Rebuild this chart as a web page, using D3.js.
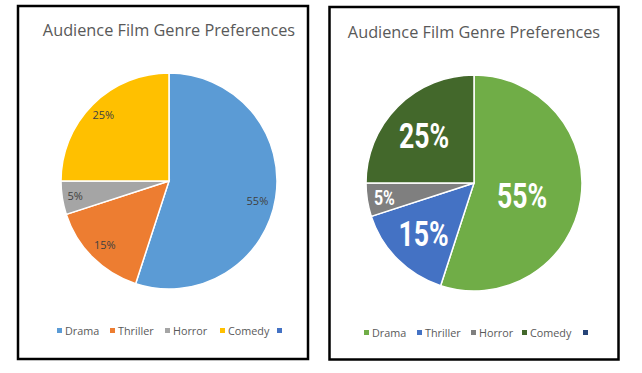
<!DOCTYPE html>
<html>
<head>
<meta charset="utf-8">
<script src="https://cdn.jsdelivr.net/npm/d3@7"></script>
<style>
  body { margin: 0; background: #fff; }
  svg { display: block; }
</style>
</head>
<body>
<svg id="chart" width="642" height="373"></svg>
<script>
// data
var genres = ["Drama", "Thriller", "Horror", "Comedy"]
var shares = [55, 15, 5, 25]
var legendNames = ["Drama", "Thriller", "Horror", "Comedy", ""]
var chartTitle = "Audience Film Genre Preferences"

var leftColors = ["#5b9bd5", "#ed7d31", "#a5a5a5", "#ffc000", "#4472c4"]
var rightColors = ["#70ad47", "#4472c4", "#7f7f7f", "#43682b", "#264478"]

var svg = d3.select('#chart')

function panel(opt){
	var g = svg.append('g')

	g.append('rect')
		.attr('x', opt.box[0]).attr('y', opt.box[1])
		.attr('width', opt.box[2]).attr('height', opt.box[3])
		.attr('fill', '#fff')
		.attr('stroke', '#000')
		.attr('stroke-width', 2.5)

	g.append('text')
		.attr('x', opt.cx).attr('y', opt.titleY)
		.attr('text-anchor', 'middle')
		.attr('font-family', 'Open Sans, sans-serif')
		.attr('font-size', 16.3)
		.attr('fill', '#595959')
		.text(chartTitle)

	var color = d3.scaleOrdinal().domain(legendNames).range(opt.colors)
	var pie = d3.pie().sort(null).value(function(d){ return d.v })
	var arcs = pie(genres.map(function(n, i){ return {name: n, v: shares[i]} }))
	var arc = d3.arc().innerRadius(0).outerRadius(opt.r)

	var pg = g.append('g').attr('transform', 'translate(' + opt.cx + ',' + opt.cy + ')')
	pg.selectAll('path').data(arcs).enter().append('path')
		.attr('d', arc)
		.attr('fill', function(d){ return color(d.data.name) })
		.attr('stroke', '#fff')
		.attr('stroke-width', 1.5)

	// labels: centred on the slice's mid angle, at a per-slice radius
	pg.selectAll('text.lbl').data(arcs).enter().append('text')
		.attr('class', 'lbl')
		.attr('transform', function(d, i){
			var rr = opt.r * opt.labelPos[i]
			var a = (d.startAngle + d.endAngle) / 2 + opt.labelTurn[i]
			return 'translate(' + (Math.sin(a) * rr) + ',' + (-Math.cos(a) * rr) + ') scale(' + opt.labelScale + ',1)'
		})
		.attr('text-anchor', 'middle')
		.attr('dy', '0.36em')
		.attr('font-family', opt.labelFont)
		.attr('font-weight', opt.labelWeight)
		.attr('font-size', function(d, i){ return opt.labelSize[i] })
		.attr('fill', opt.labelColor)
		.text(function(d){ return d.data.v + '%' })

	var lg = g.selectAll('g.leg').data(legendNames).enter().append('g')
		.attr('class', 'leg')
		.attr('transform', function(d, i){ return 'translate(' + opt.legendX[i] + ',' + opt.legendY + ')' })
	lg.append('rect')
		.attr('x', 0).attr('y', -3)
		.attr('width', 5).attr('height', 5)
		.attr('fill', function(d){ return color(d) })
	lg.append('text')
		.attr('x', 8).attr('y', 0)
		.attr('dy', '0.35em')
		.attr('font-family', 'Open Sans, sans-serif')
		.attr('font-size', 10.8)
		.attr('fill', '#595959')
		.text(function(d){ return d })
}

panel({
	box: [18, 6, 290, 353],
	cx: 169, cy: 181, r: 108, titleY: 36,
	colors: leftColors,
	labelPos: [0.84, 0.84, 0.88, 0.86],
	labelTurn: [0.07, 0, 0, 0],
	labelFont: 'Open Sans, sans-serif', labelWeight: 'normal', labelScale: 1,
	labelSize: [11, 11, 11, 11], labelColor: '#404040',
	legendX: [57, 110, 165, 220, 277], legendY: 331
})

panel({
	box: [329.5, 7, 289, 352.5],
	cx: 474, cy: 183, r: 108, titleY: 38,
	colors: rightColors,
	labelPos: [0.46, 0.66, 0.84, 0.64],
	labelTurn: [0.09, 0, 0, -0.02],
	labelFont: 'Roboto, sans-serif', labelWeight: 'bold', labelScale: 0.76,
	labelSize: [35, 35, 21, 35], labelColor: '#fff',
	legendX: [364, 417, 471, 522, 583], legendY: 333
})
</script>
</body>
</html>
